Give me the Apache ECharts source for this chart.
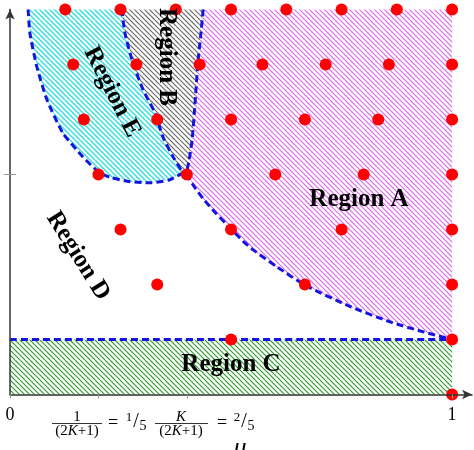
<!DOCTYPE html>
<html><head><meta charset="utf-8">
<script src="https://cdn.jsdelivr.net/npm/echarts@6/dist/echarts.min.js"></script>
<style>html,body{margin:0;padding:0;background:#fff}#c{width:474px;height:450px}</style>
</head><body><div id="c"></div>
<script>
// ---- data (x: mu in [0,1], y: grid level) ----
const row7 = [0.125, 0.25, 0.375, 0.5, 0.625, 0.75, 0.875, 1];
const row6 = [0.143, 0.286, 0.429, 0.571, 0.714, 0.857, 1];
const row5 = [0.167, 0.333, 0.5, 0.667, 0.833, 1];
const row4 = [0.2, 0.4, 0.6, 0.8, 1];
const row3 = [0.25, 0.5, 0.75, 1];
const row2 = [0.333, 0.667, 1];
const row1 = [0.5, 1];
const row0 = [1];
const rows = [row0, row1, row2, row3, row4, row5, row6, row7];

const regionC = [[0, 0], [1, 0], [1, 1], [0, 1]];
const lineC = [[0, 1], [1, 1]];
const boundaryAUpper = [[0.437, 7], [0.431, 6.5], [0.425, 6.03], [0.419, 5.35], [0.412, 4.63], [0.405, 4.25], [0.400, 4.03]];
const boundaryALower = [[0.400, 4.03], [0.415, 3.80], [0.437, 3.56], [0.465, 3.30], [0.498, 3.03], [0.527, 2.79], [0.55, 2.63], [0.604, 2.32], [0.667, 1.99], [0.769, 1.60], [0.86, 1.32], [0.93, 1.15], [1, 1]];
const boundaryEB = [[0.253, 7], [0.26, 6.57], [0.278, 6.03], [0.301, 5.54], [0.328, 5.12], [0.346, 4.68], [0.369, 4.32], [0.391, 4.03]];
const boundaryE = [[0.041, 7], [0.045, 6.57], [0.061, 5.95], [0.084, 5.35], [0.12, 4.75], [0.165, 4.32], [0.2, 4.05], [0.226, 3.95], [0.271, 3.87], [0.317, 3.85], [0.36, 3.9], [0.391, 4.03]];

const xTickValues = [0, 0.2, 0.4, 1];
const xLabelValues = [0, 1];
const yTickValues = [4];

// ---- build ----
const points = [];
rows.forEach((r, k) => r.forEach(x => points.push([x, k])));

const regionA = boundaryAUpper.concat(boundaryALower.slice(1), [[1, 7]]);
const regionB = boundaryEB.concat(boundaryAUpper.slice().reverse());
const regionE = boundaryE.concat(boundaryEB.slice().reverse());

function hatch(color, lw, bg) {
  const c = document.createElement('canvas');
  c.width = c.height = 20;
  const g = c.getContext('2d');
  if (bg) { g.fillStyle = bg; g.fillRect(0, 0, 20, 20); }
  g.strokeStyle = color; g.lineWidth = lw;
  for (let k = -25; k <= 25; k += 5) {
    g.beginPath(); g.moveTo(k, 0); g.lineTo(k + 20, 20); g.stroke();
  }
  return { image: c, repeat: 'repeat' };
}

function polySeries(poly, fill) {
  return {
    type: 'custom', coordinateSystem: 'cartesian2d', z: 1, silent: true,
    data: [[0, 0]],
    renderItem: (params, api) => ({
      type: 'polygon',
      shape: { points: poly.map(p => api.coord(p)) },
      style: { fill: fill, stroke: null }
    })
  };
}
function dashLine(pts) {
  return {
    type: 'line', data: pts, symbol: 'none', z: 3, clip: false, silent: true,
    smooth: 0.2,
    lineStyle: { color: '#1414e0', width: 3, type: [7, 4] }
  };
}

const serif = "'Liberation Serif', 'DejaVu Serif', serif";
function regionLabel(text, x, y, deg) {
  return {
    type: 'text', x: x, y: y, rotation: deg * Math.PI / 180, z: 20,
    style: { text: text, font: 'bold 25px ' + serif, fill: '#000', align: 'center', verticalAlign: 'middle' }
  };
}
function t(text, x, y, size, align, italic) {
  return {
    type: 'text', x: x, y: y, z: 20,
    style: { text: text, font: (italic ? 'italic ' : '') + size + 'px ' + serif, fill: '#000', align: align || 'center', verticalAlign: 'middle' }
  };
}
const fracRich = { i: { fontStyle: 'italic', fontFamily: serif, fontSize: 15 } , n: { fontFamily: serif, fontSize: 15 } };

const chart = echarts.init(document.getElementById('c'), null, { renderer: 'canvas' });
chart.setOption({
  animation: false,
  backgroundColor: '#fff',
  grid: { left: 10, right: 2, top: 9.5, bottom: 55.5, outerBoundsMode: 'none' },
  xAxis: {
    type: 'value', min: 0, max: 1.045, z: 10,
    axisLine: { show: true, symbol: ['none', 'arrow'], symbolSize: [7, 10], lineStyle: { color: '#333', width: 1.5 } },
    axisTick: { show: true, customValues: xTickValues, length: 4, lineStyle: { color: '#999' } },
    axisLabel: { show: true, customValues: xLabelValues, margin: 12, fontFamily: serif, fontSize: 18, color: '#000', formatter: v => String(v) },
    splitLine: { show: false }
  },
  yAxis: [{
    type: 'value', min: 0, max: 7, z: 10,
    axisLine: { show: true, symbol: ['none', 'arrow'], symbolSize: [7, 10], lineStyle: { color: '#333', width: 1.5 } },
    axisTick: { show: true, customValues: yTickValues, length: 6, lineStyle: { color: '#999' } },
    axisLabel: { show: false },
    splitLine: { show: false }
  }, {
    type: 'value', min: 0, max: 7, position: 'left', z: 10,
    axisLine: { show: false },
    axisTick: { show: true, inside: true, customValues: yTickValues, length: 6, lineStyle: { color: '#999' } },
    axisLabel: { show: false },
    splitLine: { show: false }
  }],
  series: [
    polySeries(regionC, hatch('#2a9a2a', 1.1, '#ffffff')),
    polySeries(regionA, hatch('#dc68ec', 1.2, '#ffffff')),
    polySeries(regionB, hatch('#6a6a6a', 1.2, '#ffffff')),
    polySeries(regionE, hatch('#30dde0', 1.4, '#ffffff')),
    dashLine(lineC),
    dashLine(boundaryAUpper.concat(boundaryALower.slice(1))),
    dashLine(boundaryEB),
    dashLine(boundaryE),
    {
      type: 'scatter', data: points, symbolSize: 12, z: 5, clip: false, silent: true,
      itemStyle: { color: '#ff0000', opacity: 1 }
    }
  ],
  graphic: [
    regionLabel('Region A', 359, 200, 0),
    regionLabel('Region C', 231, 365, 0),
    regionLabel('Region B', 166, 57, -90),
    regionLabel('Region E', 112, 92, -63),
    regionLabel('Region D', 78, 256, -58),
    // fraction 1/(2K+1) = 1/5
    t('1', 77, 417, 15),
    { type: 'line', z: 20, shape: { x1: 52, y1: 423.5, x2: 102, y2: 423.5 }, style: { stroke: '#000', lineWidth: 0.8 } },
    { type: 'text', x: 77, y: 431, z: 20, style: { text: '{n|(2}{i|K}{n|+1)}', rich: fracRich, align: 'center', verticalAlign: 'middle', fill: '#000' } },
    t('=', 113, 423, 18),
    t('1', 129, 418, 13),
    t('/', 136, 422, 20),
    t('5', 143, 426, 14),
    // fraction K/(2K+1) = 2/5
    t('K', 181, 417, 15, 'center', true),
    { type: 'line', z: 20, shape: { x1: 155, y1: 423.5, x2: 208, y2: 423.5 }, style: { stroke: '#000', lineWidth: 0.8 } },
    { type: 'text', x: 181, y: 431, z: 20, style: { text: '{n|(2}{i|K}{n|+1)}', rich: fracRich, align: 'center', verticalAlign: 'middle', fill: '#000' } },
    t('=', 222, 423, 18),
    t('2', 237, 418, 13),
    t('/', 244, 422, 20),
    t('5', 251, 426, 14),
    // axis name
    t('μ', 240, 448, 26, 'center', true)
  ]
});
</script></body></html>
